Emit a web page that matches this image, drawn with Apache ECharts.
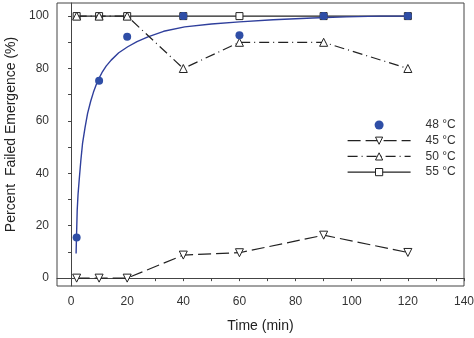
<!DOCTYPE html>
<html><head><meta charset="utf-8">
<script src="https://cdn.jsdelivr.net/npm/echarts@6/dist/echarts.min.js"></script>
<style>html,body{margin:0;padding:0;background:#fff}#c{width:474px;height:338px}</style>
</head><body><div id="c"></div>
<script>
var times = [2, 10, 20, 40, 60, 90, 120];
var s48 = [15.5, 75.3, 92.1, 100, 92.7, 100, 100];
var s45 = [0, 0, 0, 8.8, 9.7, 16.4, 9.8];
var s50 = [100, 100, 100, 80, 90, 90, 80];
var s55 = [100, 100, 100, 100, 100, 100, 100];
var curveX = [1.8, 2.0, 2.2, 2.5, 3, 3.5, 4.1, 5, 5.9, 7, 8, 9.5, 11, 12.5, 14.3, 17, 20.2, 23.5, 27.4, 33, 40.5, 50, 60, 72, 86, 98, 110, 120];
var curveY = [9.4, 18, 26, 32, 38.7, 45, 51.4, 57.5, 62.9, 67.5, 71, 75.3, 78.4, 80.9, 83.2, 86, 88.3, 90.3, 92.1, 94.2, 95.9, 97, 97.8, 98.6, 99.3, 99.7, 100, 100];
var xTicks = [0, 10, 20, 30, 40, 50, 60, 70, 80, 90, 100, 110, 120, 130, 140];
var xLabels = [0, 20, 40, 60, 80, 100, 120, 140];
var yTicks = [0, 10, 20, 30, 40, 50, 60, 70, 80, 90, 100];
var yLabels = [0, 20, 40, 60, 80, 100];
var names = ['48 °C', '45 °C', '50 °C', '55 °C'];

function zip(a, b) { return a.map(function (v, i) { return [v, b[i]]; }); }
var font = 'Liberation Sans, Arial, sans-serif';
var blue = '#2f4ea6';
var ink = '#222';
var chart = echarts.init(document.getElementById('c'));
chart.setOption({
  animation: false,
  backgroundColor: '#fff',
  grid: { left: 57, right: 10, top: 3, bottom: 52, show: true, borderColor: '#444', borderWidth: 1, outerBoundsMode: 'none', containLabel: false },
  xAxis: {
    type: 'value', min: -5, max: 140,
    name: 'Time (min)', nameLocation: 'middle', nameGap: 33,
    nameTextStyle: { fontFamily: font, fontSize: 14, color: '#222' },
    axisLine: { lineStyle: { color: '#444' } },
    axisTick: { show: true, length: 3, inside: false, customValues: xTicks, lineStyle: { color: '#444' } },
    axisLabel: { customValues: xLabels, fontFamily: font, fontSize: 12, color: '#333', margin: 10 },
    splitLine: { show: false }
  },
  yAxis: {
    type: 'value', min: -3, max: 105,
    name: 'Percent  Failed Emergence (%)', nameLocation: 'middle', nameGap: 37,
    nameTextStyle: { fontFamily: font, fontSize: 14, color: '#222', padding: [0, 0, 0, 20] },
    axisLine: { show: true, lineStyle: { color: '#444' } },
    axisTick: { show: true, length: 3, customValues: yTicks, lineStyle: { color: '#444' } },
    axisLabel: { customValues: yLabels, fontFamily: font, fontSize: 12, color: '#333', margin: 8 },
    splitLine: { show: false }
  },
  legend: {
    orient: 'vertical', left: 347, top: 119, padding: 0,
    itemWidth: 63, itemHeight: 9, itemGap: 3.7,
    data: names,
    itemStyle: { borderWidth: 1 },
    lineStyle: { width: 1.2 },
    textStyle: { fontFamily: font, fontSize: 12, color: '#333', padding: [0, 0, 0, 10] }
  },
  series: [
    {
      name: 'fit', type: 'line', data: zip(curveX, curveY), smooth: false,
      showSymbol: false, lineStyle: { color: '#2f3f9c', width: 1.4 }, z: 3, silent: true
    },
    {
      name: names[3], type: 'line', data: zip(times, s55), symbol: 'rect', symbolSize: 7,
      lineStyle: { color: ink, width: 1.2, type: 'solid' },
      itemStyle: { color: '#fff', borderColor: ink, borderWidth: 1 }, z: 2
    },
    {
      name: names[2], type: 'line', data: zip(times, s50), symbol: 'triangle', symbolSize: 8,
      lineStyle: { color: ink, width: 1.2, type: [10, 4, 1, 4] },
      itemStyle: { color: '#fff', borderColor: ink, borderWidth: 1 }, z: 4
    },
    {
      name: names[1], type: 'line', data: zip(times, s45), symbol: 'triangle', symbolRotate: 180, symbolSize: 8,
      lineStyle: { color: ink, width: 1.2, type: [13, 5] },
      itemStyle: { color: '#fff', borderColor: ink, borderWidth: 1 }, z: 4
    },
    {
      name: names[0], type: 'scatter', data: zip(times, s48), symbol: 'circle', symbolSize: 8,
      itemStyle: { color: blue, opacity: 1 }, z: 5
    }
  ]
});
</script></body></html>
